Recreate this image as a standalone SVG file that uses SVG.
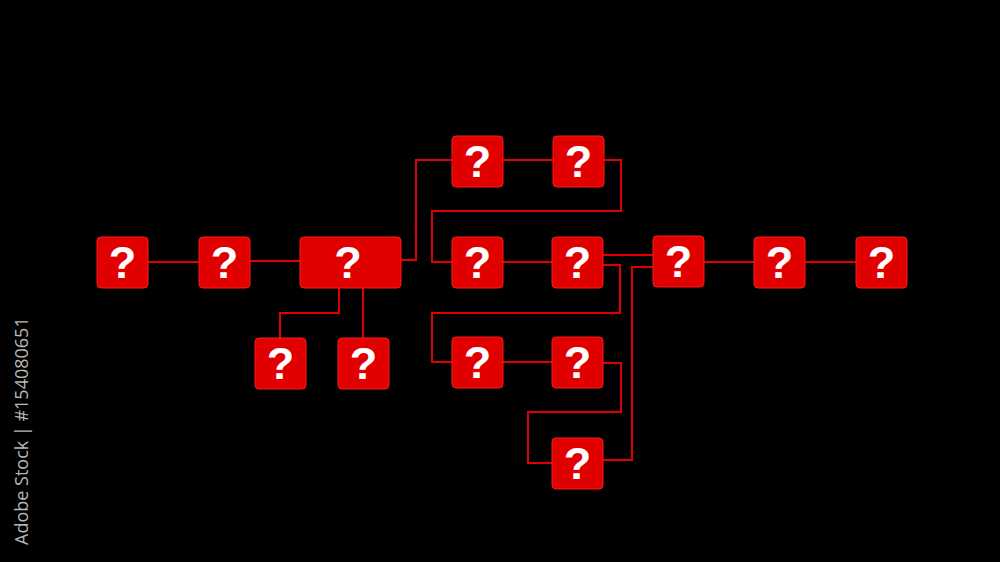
<svg xmlns="http://www.w3.org/2000/svg" width="1000" height="562" viewBox="0 0 1000 562">
<style>
.bg{fill:#000}
.box{fill:#e00000;stroke:#ff1a1a;stroke-width:1}
.q{fill:#fff;font-family:"Liberation Sans",Arial,sans-serif;font-weight:bold;font-size:45px;text-anchor:middle}
.wire{fill:none;stroke:#e00000;stroke-width:2}
.wm{fill:#b8b8b8;font-family:"Open Sans","DejaVu Sans",sans-serif;font-size:18px}
</style>
<rect class="bg" x="0" y="0" width="1000" height="562"/>
<g id="connectors">
<path class="wire" d="M148,262 H199"/>
<path class="wire" d="M250,261 H300"/>
<path class="wire" d="M401,260 H416 V160 H452"/>
<path class="wire" d="M339,288 V313 H280 V338"/>
<path class="wire" d="M363,288 V338"/>
<path class="wire" d="M503,160 H553"/>
<path class="wire" d="M604,160 H621 V211 H432 V262 H452"/>
<path class="wire" d="M503,262 H552"/>
<path class="wire" d="M603,255 H653"/>
<path class="wire" d="M603,265 H620 V313 H432 V362 H452"/>
<path class="wire" d="M503,362 H552"/>
<path class="wire" d="M603,363 H621 V412 H528 V463 H552"/>
<path class="wire" d="M603,460 H632 V267 H653"/>
<path class="wire" d="M704,262 H754"/>
<path class="wire" d="M805,262 H856"/>
</g>
<g id="n1"><rect class="box" x="97" y="237" width="51" height="51" rx="4"/><text class="q" x="122.5" y="278">?</text></g>
<g id="n2"><rect class="box" x="199" y="237" width="51" height="51" rx="4"/><text class="q" x="224.5" y="278">?</text></g>
<g id="n3"><rect class="box" x="300" y="237" width="101" height="51" rx="4"/><text class="q" x="348" y="278">?</text></g>
<g id="n4"><rect class="box" x="255" y="338" width="51" height="51" rx="4"/><text class="q" x="280.5" y="379">?</text></g>
<g id="n5"><rect class="box" x="338" y="338" width="51" height="51" rx="4"/><text class="q" x="363.5" y="379">?</text></g>
<g id="n6"><rect class="box" x="452" y="136" width="51" height="51" rx="4"/><text class="q" x="477.5" y="177">?</text></g>
<g id="n7"><rect class="box" x="553" y="136" width="51" height="51" rx="4"/><text class="q" x="578.5" y="177">?</text></g>
<g id="n8"><rect class="box" x="452" y="237" width="51" height="51" rx="4"/><text class="q" x="477.5" y="278">?</text></g>
<g id="n9"><rect class="box" x="552" y="237" width="51" height="51" rx="4"/><text class="q" x="577.5" y="278">?</text></g>
<g id="n10"><rect class="box" x="653" y="236" width="51" height="51" rx="4"/><text class="q" x="678.5" y="277">?</text></g>
<g id="n11"><rect class="box" x="452" y="337" width="51" height="51" rx="4"/><text class="q" x="477.5" y="378">?</text></g>
<g id="n12"><rect class="box" x="552" y="337" width="51" height="51" rx="4"/><text class="q" x="577.5" y="378">?</text></g>
<g id="n13"><rect class="box" x="552" y="438" width="51" height="51" rx="4"/><text class="q" x="577.5" y="479">?</text></g>
<g id="n14"><rect class="box" x="754" y="237" width="51" height="51" rx="4"/><text class="q" x="779.5" y="278">?</text></g>
<g id="n15"><rect class="box" x="856" y="237" width="51" height="51" rx="4"/><text class="q" x="881.5" y="278">?</text></g>
<text class="wm" transform="translate(28,545) rotate(-90)">Adobe Stock | #154080651</text>
</svg>
